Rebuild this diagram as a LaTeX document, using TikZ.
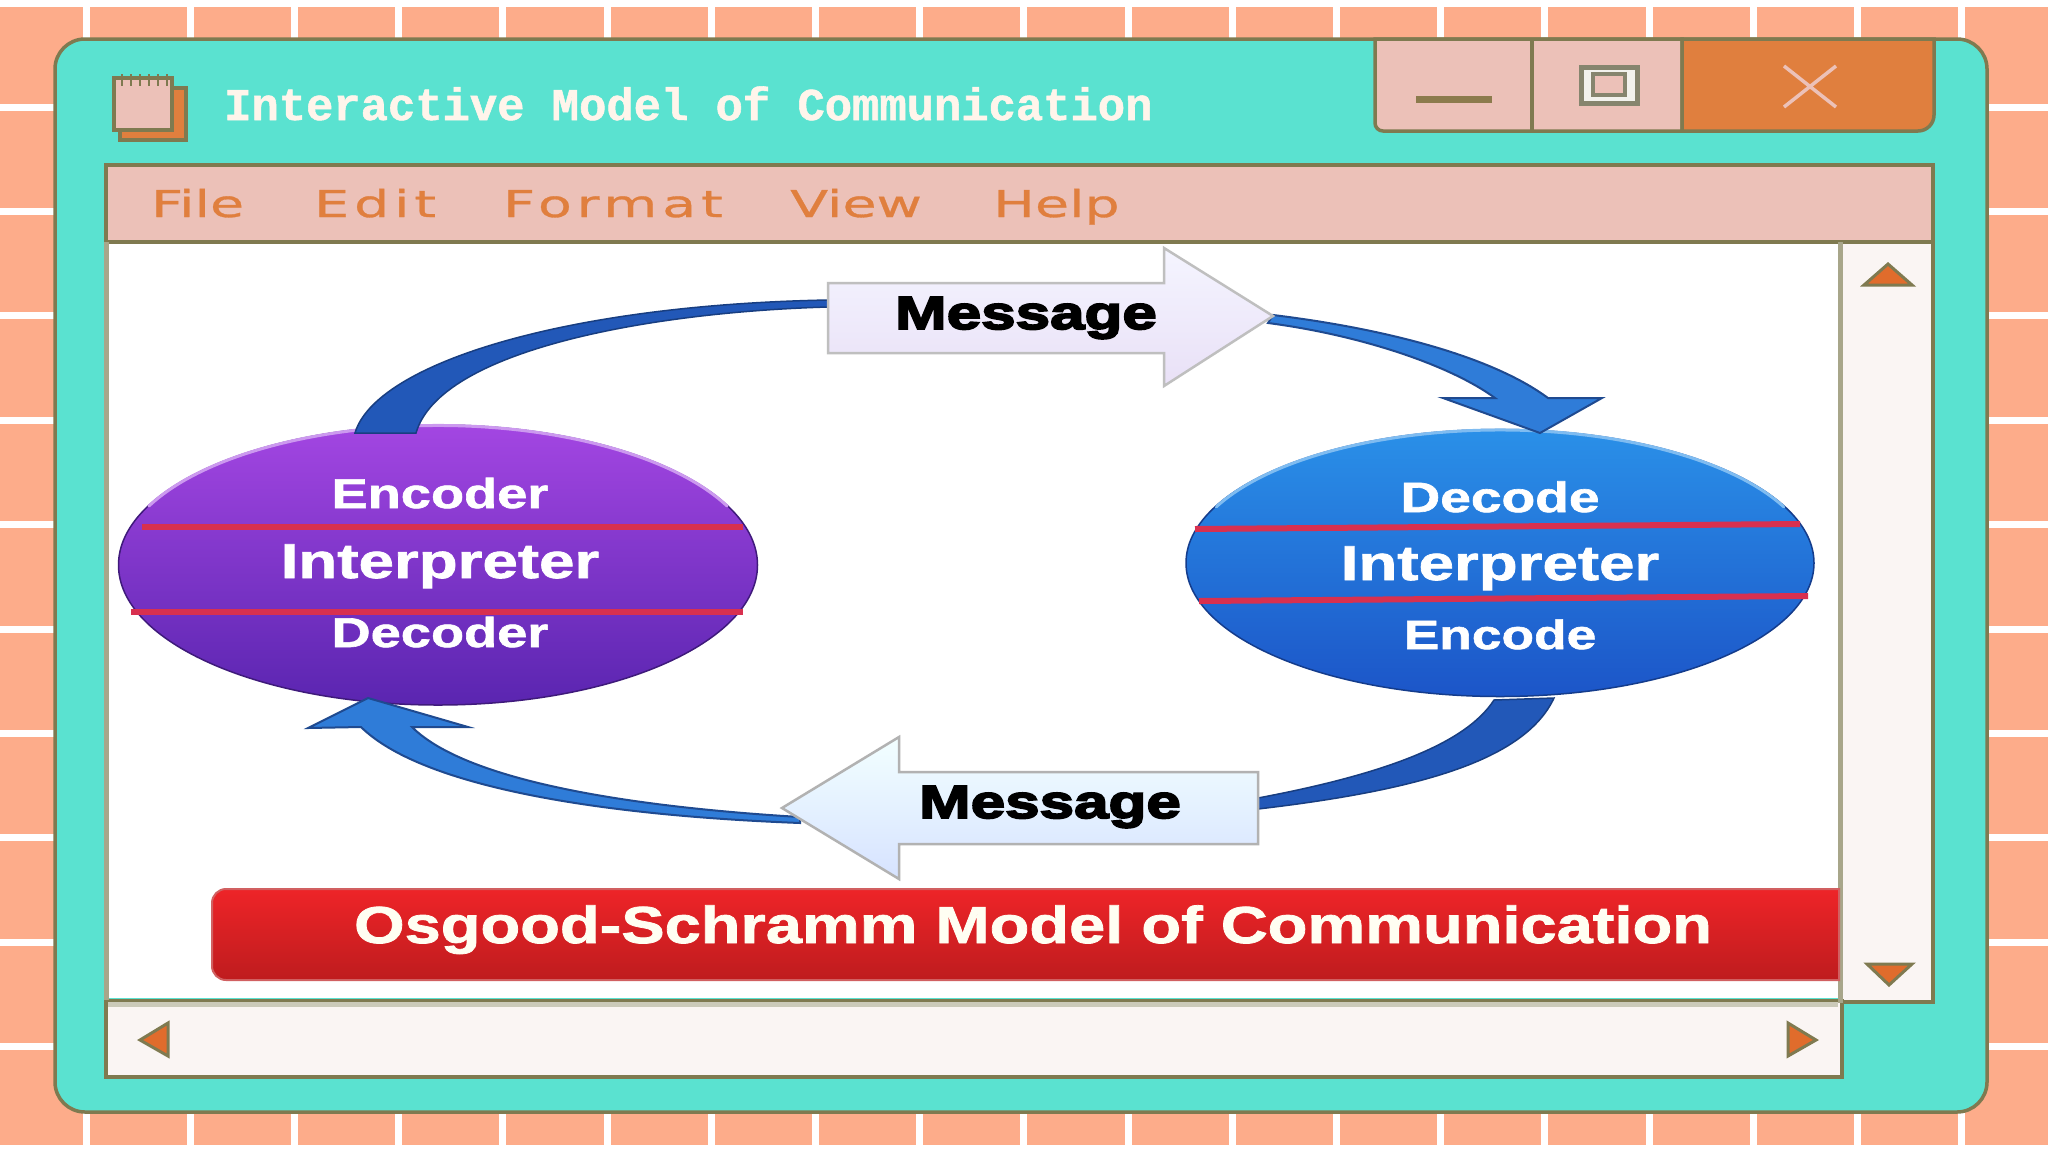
\documentclass[tikz,border=0pt]{standalone}
\usepackage{fontspec}
\usetikzlibrary{positioning, shapes.geometric}
\setmainfont{Liberation Sans}
\newfontfamily\titlefont[FakeBold=1.2]{Liberation Mono}
\newfontfamily\menufont[FakeStretch=1.5,FakeBold=0.8]{DejaVu Sans}
\newfontfamily\menuwidefont[FakeStretch=1.5,FakeBold=0.8,LetterSpace=13]{DejaVu Sans}
\newfontfamily\ovalfont[FakeStretch=1.3,FakeBold=1.5]{Liberation Sans}
\newfontfamily\bannerfont[FakeStretch=1.25,FakeBold=1.5]{Liberation Sans}
\newfontfamily\msgfont[FakeStretch=1.33,FakeBold=4]{Liberation Sans}
\definecolor{salmon}{HTML}{FDAC8A}
\definecolor{winteal}{HTML}{5AE2D0}
\definecolor{winedge}{HTML}{7F7A50}
\definecolor{softedge}{HTML}{A8A68A}
\definecolor{winpink}{HTML}{ECC1B8}
\definecolor{winorange}{HTML}{E07F3E}
\definecolor{arroworange}{HTML}{E06C2C}
\definecolor{barfill}{HTML}{FAF5F3}
\definecolor{bandblue}{HTML}{2258B8}
\definecolor{headblue}{HTML}{2F7CD8}
\definecolor{bandedge}{HTML}{1F4A90}
\definecolor{purpletop}{HTML}{A346E2}
\definecolor{purplemid}{HTML}{7A35D0}
\definecolor{purplelow}{HTML}{5A25B0}
\definecolor{bluetop}{HTML}{2A90E8}
\definecolor{bluemid}{HTML}{2070D8}
\definecolor{bluelow}{HTML}{1C55C8}
\definecolor{sepred}{HTML}{D8304F}
\definecolor{bannertop}{HTML}{EE2428}
\definecolor{bannermid}{HTML}{EC2226}
\definecolor{bannerlow}{HTML}{BE1C1E}
\tikzset{
    winline/.style={draw=winedge, line width=3.5pt},
    softline/.style={draw=softedge, line width=5pt},
    scrollarrow/.style={draw=winedge, line width=3pt, fill=arroworange},
    menuitem/.style={anchor=base west, inner sep=0pt, text=winorange, font=\menufont\fontsize{37}{40}\selectfont},
    menuwide/.style={menuitem, font=\menuwidefont\fontsize{37}{40}\selectfont},
    ovaltext/.style={anchor=base, inner sep=0pt, text=white, font=\ovalfont\bfseries\fontsize{#1}{#1}\selectfont},
    msgtext/.style={anchor=base, inner sep=0pt, text=black, font=\msgfont\bfseries\fontsize{46.6}{48}\selectfont},
    redline/.style={draw=sepred, line width=6pt},
    band/.style={fill=bandblue, draw=bandblue!70!black, line width=1.5pt},
    headband/.style={fill=headblue, draw=bandedge, line width=2pt},
    rim/.style={line width=3pt, line cap=round},
}
\begin{document}
\begin{tikzpicture}[x=1pt, y=-1pt]
            \useasboundingbox (0,0) rectangle (2048,1152);
            \fill[white] (0,0) rectangle (2048,1152);
            \fill[salmon] (0,7) rectangle (2048,1145);
            \foreach \t in {0,...,18}{%
                    \fill[white] (82.5+104.2*\t,7) rectangle (89.5+104.2*\t,1145);
                }
            \foreach \t in {0,...,9}{%
                    \fill[white] (0,103.5+104.4*\t) rectangle (2048,110.5+104.4*\t);
                }
            \draw[winline, fill=winteal, rounded corners=30pt] (55,39) rectangle (1987,1112);

            \draw[winline, fill=winorange] (120,88) rectangle (186,140);
            \draw[winline, fill=winpink] (114,78) rectangle (172,130);
            \foreach \t in {0,...,5}{%
                    \draw[winedge, line width=2pt] (122+9*\t,74) -- (122+9*\t,86);
                }
            \node[anchor=base west, inner sep=0pt, text=white!92!orange, font=\titlefont\bfseries\fontsize{45.5}{48}\selectfont] (wintitle) at (224,120) {Interactive Model of Communication};

            \draw[winline, fill=winpink] (1682,39) -- (1375,39) [rounded corners=8pt] -- (1375,131) [sharp corners] -- (1682,131) -- cycle;
            \draw[winline] (1532,39) -- (1532,131);
            \draw[winline, fill=winorange] (1682,39) -- (1682,131) [rounded corners=16pt] -- (1934,131) [sharp corners] -- (1934,39) -- cycle;
            \fill[winedge!80!brown] (1416,96) rectangle (1492,103);
            \draw[draw=softedge!80!black, line width=5pt, fill=white!85!softedge] (1581,67) rectangle (1637,103);
            \draw[draw=softedge!80!black, line width=4pt, fill=winpink] (1593,74) rectangle (1625,95);
            \draw[winpink, line width=3.5pt] (1784,66) -- (1836,107) (1836,66) -- (1784,107);

            \draw[winline, fill=winpink] (106,165) rectangle (1933,242);
            \node[menuitem] (filemenu) at (151,217) {File};
            \node[menuwide] (editmenu) at (314,217) {Edit};
            \node[menuwide] (formatmenu) at (503,217) {Format};
            \node[menuitem] (viewmenu) at (790,217) {View};
            \node[menuitem] (helpmenu) at (993,217) {Help};

            \fill[white] (108,244) rectangle (1838,998);
            \draw[winline, fill=barfill] (1840,242) rectangle (1933,1002);
            \draw[winline, fill=barfill] (106,1001) rectangle (1842,1077);
            \draw[softline] (106,242) -- (106,1000);
            \draw[softline] (1840,242) -- (1840,1003);
            \draw[softline, draw=softedge!60!white] (108,1004) -- (1838,1004);
            \draw[scrollarrow] (1888,264) -- (1864,285) -- (1912,285) -- cycle;
            \draw[scrollarrow] (1867,964) -- (1912,964) -- (1889,985) -- cycle;
            \draw[scrollarrow] (168,1023) -- (168,1056) -- (140,1040) -- cycle;
            \draw[scrollarrow] (1788,1023) -- (1788,1056) -- (1816,1040) -- cycle;

            \node[draw=purplelow!70!black, line width=1.5pt, ellipse, minimum width=639pt, minimum height=280pt, top color=purpletop, middle color=purplemid, bottom color=purplelow, inner sep=0pt] (leftoval) at (438,565) {};
            \node[draw=bluelow!70!black, line width=1.5pt, ellipse, minimum width=628pt, minimum height=267pt, top color=bluetop, middle color=bluemid, bottom color=bluelow, inner sep=0pt] (rightoval) at (1500,563) {};
            \draw[rim, draw=purpletop!55!white] (438,565) ++(205:319 and 139.5) arc[start angle=205, end angle=335, x radius=319, y radius=139.5];
            \draw[rim, draw=bluetop!60!white] (1500,563) ++(205:313 and 133) arc[start angle=205, end angle=335, x radius=313, y radius=133];
            \draw[redline] (142,527) -- (743,527);
            \draw[redline] (131,612) -- (743,612);
            \draw[redline] (1195,529) -- (1800,524);
            \draw[redline] (1199,601) -- (1808,596);
            \node[ovaltext=41.7] (encoderleft) at (440,508) {Encoder};
            \node[ovaltext=49] (interpleft) at (440,578) {Interpreter};
            \node[ovaltext=41.7] (decoderleft) at (440,647) {Decoder};
            \node[ovaltext=42.4] (decoderight) at (1500,512) {Decode};
            \node[ovaltext=49] (interpright) at (1500,580) {Interpreter};
            \node[ovaltext=41] (encoderight) at (1500,649) {Encode};

            \draw[band] (355,433) .. controls (375,365) and (560,305) .. (828,300) -- (828,307) .. controls (650,312) and (440,350) .. (416,433) -- cycle;
            \draw[headband] (1273,315) .. controls (1380,328) and (1490,355) .. (1548,398) -- (1602,398) -- (1540,433) -- (1443,398) -- (1495,398) .. controls (1450,365) and (1360,335) .. (1268,323) -- cycle;
            \draw[band] (1554,698) .. controls (1525,760) and (1420,790) .. (1258,809) -- (1258,798) .. controls (1380,775) and (1465,745) .. (1494,700) -- cycle;
            \draw[headband] (368,698) -- (468,727) -- (412,727) .. controls (460,775) and (600,805) .. (800,817) -- (800,823) .. controls (590,815) and (420,785) .. (361,727) -- (308,728) -- cycle;

            \draw[draw=black!25, line width=2.5pt, top color=white!96!blue, bottom color=blue!45!violet!12!white] (828,283) -- (1164,283) -- (1164,248) -- (1273,316) -- (1164,386) -- (1164,353) -- (828,353) -- cycle;
            \draw[draw=black!30, line width=2.5pt, top color=cyan!5!white, bottom color=cyan!30!blue!16!white] (1258,772) -- (899,772) -- (899,737) -- (782,808) -- (899,879) -- (899,844) -- (1258,844) -- cycle;
            \node[msgtext] (msgtop) at (1026,329) {Message};
            \node[msgtext] (msgbottom) at (1050,818) {Message};

            \draw[draw=bannerlow!70!white, line width=2pt, top color=bannertop, middle color=bannermid, bottom color=bannerlow] (1839,889) [rounded corners=14pt] -- (212,889) -- (212,980) [sharp corners] -- (1839,980) -- cycle;
            \node[anchor=base, inner sep=0pt, text=white!95!yellow, font=\bannerfont\bfseries\fontsize{52}{54}\selectfont] (bannertext) at (1033,943) {Osgood-Schramm Model of Communication};
        \end{tikzpicture}
\end{document}
